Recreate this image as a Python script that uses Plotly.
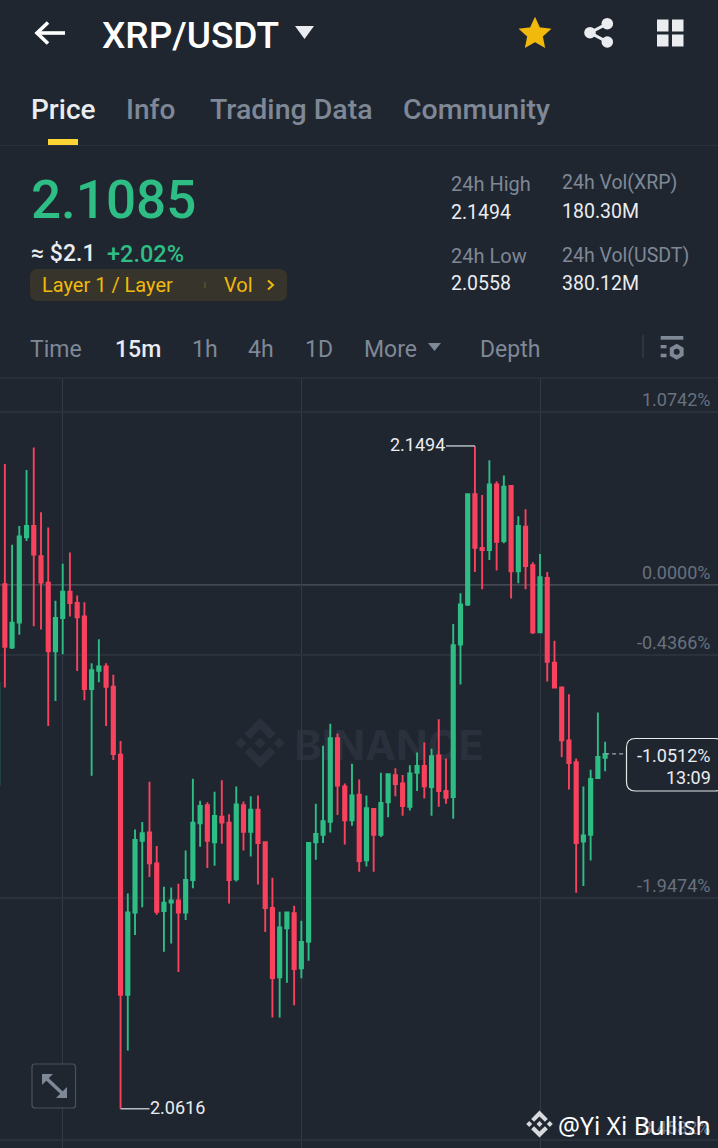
import math
import plotly.graph_objects as go

W, H = 718, 1148
BG = "#1f2630"
GREEN = "#2ebd85"
RED = "#f8425e"
GREY = "#7f8896"
LIGHT = "#eaecef"
YELLOW = "#f0b90b"
GRID = "#2a313c"
FONT = "Roboto"

candle_index = list(range(-1, 84))
open_prices = [2.1045,
    2.1311,2.1227,2.1260,2.1373,2.1388,2.1348,2.1313,2.1222,2.1266,2.1301,
    2.1286,2.1268,2.1172,2.1196,2.1202,2.1175,2.1085,2.0767,2.0876,2.0971,
    2.0982,2.0941,2.0878,2.0889,2.0892,2.0876,2.0919,2.0994,2.1018,2.0969,
    2.1003,2.0995,2.0920,2.1018,2.0983,2.1012,2.0969,2.0882,2.0790,2.0855,
    2.0875,2.0802,2.0837,2.0969,2.0979,2.0996,2.1107,2.1043,2.0998,2.1032,
    2.0945,2.1013,2.0979,2.1022,2.1058,2.1047,2.1016,2.1061,2.1070,2.1042,
    2.1084,2.1037,2.1029,2.1231,2.1284,2.1430,2.1359,2.1356,2.1443,2.1368,
    2.1441,2.1328,2.1387,2.1336,2.1247,2.1319,2.1207,2.1174,2.1104,2.1075,
    2.0970,2.0979,2.1054,2.1081]
high_prices = [2.1184,
    2.1470,2.1363,2.1388,2.1462,2.1492,2.1406,2.1386,2.1289,2.1338,2.1353,
    2.1296,2.1287,2.1206,2.1238,2.1206,2.1191,2.1103,2.0901,2.0986,2.0996,
    2.1049,2.0964,2.0910,2.0909,2.0914,2.0958,2.1053,2.1024,2.1022,2.1036,
    2.1051,2.1006,2.1043,2.1023,2.1030,2.1031,2.0969,2.0922,2.0877,2.0876,
    2.0885,2.0865,2.0968,2.1020,2.1097,2.1126,2.1113,2.1047,2.1073,2.1052,
    2.1031,2.1013,2.1061,2.1060,2.1067,2.1058,2.1071,2.1088,2.1101,2.1093,
    2.1132,2.1080,2.1258,2.1299,2.1430,2.1494,2.1429,2.1475,2.1447,2.1455,
    2.1441,2.1401,2.1410,2.1340,2.1351,2.1327,2.1236,2.1174,2.1165,2.1080,
    2.1043,2.1065,2.1141,2.1102]
low_prices = [2.1041,
    2.1174,2.1225,2.1244,2.1368,2.1255,2.1251,2.1123,2.1156,2.1218,2.1268,
    2.1196,2.1157,2.1057,2.1181,2.1123,2.1078,2.0616,2.0693,2.0846,2.0883,
    2.0923,2.0873,2.0824,2.0835,2.0797,2.0866,2.0908,2.0963,2.0935,2.0938,
    2.0967,2.0888,2.0917,2.0958,2.0950,2.0913,2.0850,2.0737,2.0737,2.0783,
    2.0753,2.0789,2.0812,2.0946,2.0968,2.0982,2.1005,2.0966,2.0991,2.0930,
    2.0937,2.0930,2.0976,2.1002,2.1030,2.1004,2.1011,2.1037,2.1027,2.1004,
    2.1016,2.1020,2.1000,2.1178,2.1282,2.1327,2.1304,2.1343,2.1329,2.1365,
    2.1292,2.1312,2.1304,2.1245,2.1247,2.1182,2.1174,2.1082,2.1039,2.0902,
    2.0911,2.0945,2.1054,2.1063]
close_prices = [2.1180,
    2.1228,2.1260,2.1374,2.1388,2.1350,2.1313,2.1222,2.1266,2.1301,2.1286,
    2.1267,2.1172,2.1197,2.1202,2.1175,2.1086,2.0767,2.0876,2.0972,2.0981,
    2.0941,2.0877,2.0889,2.0892,2.0876,2.0919,2.0995,2.1017,2.0971,2.1004,
    2.0995,2.0919,2.1019,2.0983,2.1012,2.0968,2.0882,2.0789,2.0856,2.0876,
    2.0801,2.0837,2.0968,2.0980,2.0997,2.1107,2.1044,2.0998,2.1031,2.0944,
    2.1014,2.0979,2.1021,2.1059,2.1046,2.1017,2.1060,2.1070,2.1043,2.1083,
    2.1037,2.1028,2.1230,2.1284,2.1430,2.1359,2.1356,2.1443,2.1367,2.1440,
    2.1328,2.1388,2.1335,2.1247,2.1320,2.1208,2.1174,2.1104,2.1074,2.0968,
    2.0978,2.1053,2.1082,2.1086]

grid_prices = [2.1539, 2.1217, 2.0895, 2.0574]
base_price = 2.1310
grid_candles = [8, 41, 74]
pct_ticks = [(2.1539, "1.0742%"), (2.1310, "0.0000%"), (2.1217, "-0.4366%"),
             (2.0895, "-1.9474%"), (2.0574, "-3.4582%")]
high_mark = (65, 2.1494, "2.1494")
low_mark = (16, 2.0616, "2.0616")
last_mark = (83, 2.1086)

px = lambda x: x / W
py = lambda y: 1 - y / H


def path(points, close=True):
    s = "M " + " L ".join(f"{px(x):.5f} {py(y):.5f}" for x, y in points)
    return s + (" Z" if close else "")


def rrect(x0, y0, x1, y1, r):
    a = lambda x, y: f"{px(x):.5f} {py(y):.5f}"
    return (f"M {a(x0+r,y0)} L {a(x1-r,y0)} Q {a(x1,y0)} {a(x1,y0+r)} "
            f"L {a(x1,y1-r)} Q {a(x1,y1)} {a(x1-r,y1)} L {a(x0+r,y1)} "
            f"Q {a(x0,y1)} {a(x0,y1-r)} L {a(x0,y0+r)} Q {a(x0,y0)} {a(x0+r,y0)} Z")


shapes, annos = [], []


def poly(points, fill=None, line=None, width=0, close=True, layer="above", dash=None):
    ln = dict(color=line or "rgba(0,0,0,0)", width=width)
    if dash:
        ln["dash"] = dash
    shapes.append(dict(type="path", xref="paper", yref="paper", path=path(points, close),
                       fillcolor=fill or "rgba(0,0,0,0)", line=ln, layer=layer))


def rr(x0, y0, x1, y1, r, fill=None, line=None, width=0):
    shapes.append(dict(type="path", xref="paper", yref="paper", path=rrect(x0, y0, x1, y1, r),
                       fillcolor=fill or "rgba(0,0,0,0)",
                       line=dict(color=line or "rgba(0,0,0,0)", width=width)))


def circ(cx, cy, r, fill):
    shapes.append(dict(type="circle", xref="paper", yref="paper", x0=px(cx-r), x1=px(cx+r),
                       y0=py(cy+r), y1=py(cy-r), fillcolor=fill, line=dict(width=0)))


def text(x, y, s, size, color, anchor="left", family=FONT, weight=None):
    annos.append(dict(xref="paper", yref="paper", x=px(x + (2 if anchor == "right" else -1)), y=py(y), text=s, showarrow=False,
                      xanchor=anchor, yanchor="middle", borderpad=0,
                      font=dict(family=family, size=size, color=color, weight=weight)))


def logo(cx, cy, h, color, layer="above"):
    k = h / 25
    P = lambda pts: [(cx + a * k, cy + b * k) for a, b in pts]
    poly(P([(0, -5.5), (5.5, 0), (0, 5.5), (-5.5, 0)]), fill=color, layer=layer)
    poly(P([(-19, -5.5), (-13.5, 0), (-19, 5.5), (-24.5, 0)]), fill=color, layer=layer)
    poly(P([(19, -5.5), (24.5, 0), (19, 5.5), (13.5, 0)]), fill=color, layer=layer)
    poly(P([(0, -25), (15.5, -9.5), (10, -4), (0, -14), (-10, -4), (-15.5, -9.5)]), fill=color, layer=layer)
    poly(P([(0, 25), (15.5, 9.5), (10, 4), (0, 14), (-10, 4), (-15.5, 9.5)]), fill=color, layer=layer)


# watermark below the candles
logo(260, 743, 25, "#2a313c", layer="below")
shapes.append(dict(type="rect", xref="paper", yref="paper", x0=px(290), x1=px(488), y0=py(765), y1=py(722),
                   line=dict(width=0), fillcolor="rgba(0,0,0,0)", layer="below",
                   label=dict(text="<b>BINANCE</b>", textposition="middle center",
                              font=dict(family="Inter", size=41.5, color="#2a313c"))))

# header separators
poly([(0, 145.5), (W, 145.5)], line="#2b323d", width=1.2, close=False)
poly([(0, 378), (W, 378)], line="#2b323d", width=1.5, close=False)
poly([(48, 142), (78, 142)], line="#fcd535", width=6, close=False)

# back arrow, dropdown, icons
poly([(65, 33), (38, 33)], line="#ffffff", width=3.6, close=False)
poly([(48, 22.5), (37, 33), (48, 43.5)], line="#ffffff", width=3.6, close=False)
poly([(295, 26), (314, 26), (304.5, 39)], fill=LIGHT)
star = []
for i in range(10):
    r = 15.5 if i % 2 == 0 else 7.4
    t = -math.pi / 2 + i * math.pi / 5
    star.append((535 + r * math.cos(t), 34 + r * math.sin(t)))
poly(star, fill=YELLOW, line=YELLOW, width=1.5)
poly([(607.3, 23.7), (590, 32.7), (607.3, 42)], line=LIGHT, width=3, close=False)
circ(590, 32.7, 5.8, LIGHT)
circ(607.3, 23.7, 5.8, LIGHT)
circ(607.3, 42, 5.8, LIGHT)
for x0 in (657, 672):
    for y0 in (19.5, 34.5):
        poly([(x0, y0), (x0 + 11.5, y0), (x0 + 11.5, y0 + 12), (x0, y0 + 12)], fill=LIGHT)

text(102, 36, "XRP/USDT", 37, "#ffffff", weight=500)
text(31, 110, "Price", 28, LIGHT, weight=500)
text(126, 110, "Info", 28, GREY, weight=500)
text(210, 110, "Trading Data", 28.5, GREY, weight=500)
text(403, 110, "Community", 28.5, GREY, weight=500)
text(31, 200, "2.1085", 53, GREEN, weight=500)
text(31, 254, "≈ $2.1", 23, LIGHT, weight=500)
text(107, 254, "+2.02%", 23.5, GREEN, weight=500)

rr(30, 269, 287, 301, 8, fill="#37352b")
text(42, 285, "Layer 1 / Layer", 20, YELLOW)
poly([(205, 282), (205, 288)], line="#6b6023", width=1, close=False)
text(224, 285, "Vol", 20, YELLOW)
poly([(268, 280.5), (273, 285), (268, 289.5)], line=YELLOW, width=2, close=False)

text(451, 184, "24h High", 20, GREY)
text(451, 212, "2.1494", 19.5, LIGHT)
text(451, 256, "24h Low", 20, GREY)
text(451, 284, "2.0558", 19.5, LIGHT)
text(562, 182, "24h Vol(XRP)", 19.5, GREY)
text(562, 211, "180.30M", 19.5, LIGHT)
text(562, 255, "24h Vol(USDT)", 19.5, GREY)
text(562, 283, "380.12M", 19.5, LIGHT)

text(30, 349, "Time", 23, GREY)
text(115, 349, "15m", 23, LIGHT, weight=500)
text(192, 349, "1h", 23, GREY)
text(248, 349, "4h", 23, GREY)
text(305, 349, "1D", 23, GREY)
text(364, 349, "More", 23, GREY)
poly([(428, 343), (441, 343), (434.5, 351)], fill=GREY)
text(480, 349, "Depth", 23, GREY)
poly([(643, 335), (643, 358)], line="#333b47", width=1.5, close=False)
for a, b, c, d in [(660.7, 336, 683.3, 339.7), (660.7, 345, 666.5, 348.3), (660.7, 353.7, 666.5, 357.3)]:
    poly([(a, b), (c, b), (c, d), (a, d)], fill=GREY)
hexagon = [(676.7 + 8 * math.sin(i * math.pi / 3), 351.7 - 8 * math.cos(i * math.pi / 3)) for i in range(6)]
poly(hexagon, fill=GREY)
circ(676.7, 351.7, 3, BG)

# expand button
rr(32, 1064, 75.5, 1108, 3, fill=BG, line="#4b525d", width=1.2)
poly([(42, 1074), (53, 1074), (42, 1085)], fill=GREY)
poly([(67, 1098), (56, 1098), (67, 1087)], fill=GREY)
poly([(45, 1077), (64, 1095)], line=GREY, width=3.5, close=False)

# axis labels sit just above their grid lines
for price, label in pct_ticks:
    annos.append(dict(xref="paper", yref="y", x=px(713), y=price, text=label, showarrow=False, xanchor="right",
                      yanchor="middle", yshift=12.5, font=dict(family=FONT, size=18, color="#69717e")))

# high and low markers
hx, hy, hs = high_mark
lx, ly, ls = low_mark
shapes.append(dict(type="line", xref="x", yref="y", x0=hx, x1=hx - 4, y0=hy, y1=hy, line=dict(color="#b7bcc4", width=1.5)))
shapes.append(dict(type="line", xref="x", yref="y", x0=lx, x1=lx + 4, y0=ly, y1=ly, line=dict(color="#b7bcc4", width=1.5)))
annos.append(dict(x=hx - 4, y=hy, xref="x", yref="y", text=hs, showarrow=False, xanchor="right", yanchor="middle", xshift=1, yshift=1,
                  font=dict(family=FONT, size=18, color=LIGHT)))
annos.append(dict(x=lx + 4, y=ly, xref="x", yref="y", text=ls, showarrow=False, xanchor="left", yanchor="middle", xshift=-1, yshift=1,
                  font=dict(family=FONT, size=18, color=LIGHT)))

# last-price tag
shapes.append(dict(type="line", xref="x", yref="y", x0=last_mark[0], x1=last_mark[0] + 4, y0=last_mark[1], y1=last_mark[1],
                   line=dict(color="#a0a6af", width=1.2, dash="4px,3px")))
rr(626.5, 738.5, 724, 791, 9, fill=BG, line="#e6e8ea", width=1.2)
text(710, 755, "-1.0512%", 18, LIGHT, anchor="right")
text(710, 777, "13:09", 18, LIGHT, anchor="right")

# author watermark
logo(539.5, 1124, 13.5, "#d8dadd")
text(558, 1125, "@Yi Xi Bullish", 24.5, "#ffffff", family="Noto Sans")

fig = go.Figure(go.Candlestick(
    x=candle_index, open=open_prices, high=high_prices, low=low_prices, close=close_prices,
    increasing=dict(line=dict(color=GREEN, width=1.9), fillcolor=GREEN),
    decreasing=dict(line=dict(color=RED, width=1.9), fillcolor=RED),
    whiskerwidth=0, hoverinfo="skip", showlegend=False))

fig.update_layout(
    width=W, height=H, autosize=False, margin=dict(l=0, r=0, t=0, b=0, pad=0),
    paper_bgcolor=BG, plot_bgcolor="rgba(0,0,0,0)", boxgap=0.36, showlegend=False,
    xaxis=dict(range=[-0.67, 98.61], rangeslider=dict(visible=False), showticklabels=False, ticks="",
               tickmode="array", tickvals=grid_candles, showgrid=True, gridcolor="#333a45", gridwidth=1.2, zeroline=False),
    yaxis=dict(domain=[0, 1 - 378 / H], range=[2.0564, 2.1584], showticklabels=False, ticks="",
               tickmode="array", tickvals=grid_prices, showgrid=True, gridcolor=GRID, gridwidth=1.5, zeroline=False),
    shapes=shapes + [dict(type="line", xref="paper", yref="y", x0=0, x1=1, y0=base_price, y1=base_price,
                          line=dict(color="#50565f", width=1.2), layer="below")],
    annotations=annos,
)

fig.write_html("out.html", config=dict(displayModeBar=False),
               post_script="document.body.style.margin='0';document.body.style.background='#1f2630';document.body.style.overflow='hidden';")
